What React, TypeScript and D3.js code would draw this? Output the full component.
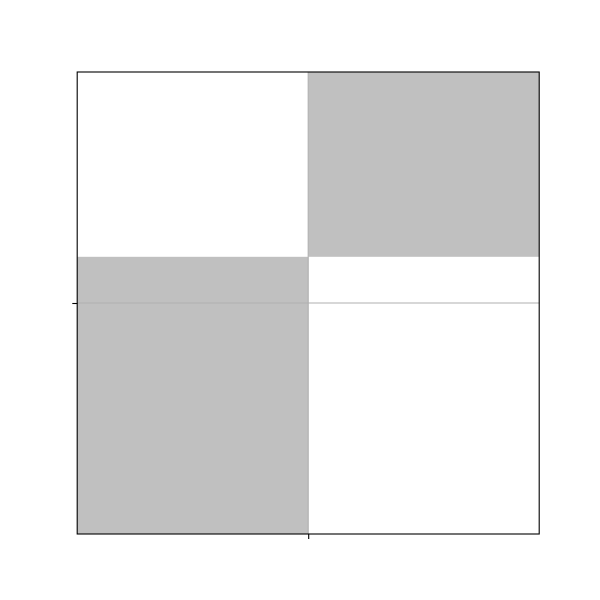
import { useEffect, useRef } from 'react';
import * as d3 from 'd3';

// regions: x extent and y extent of each shaded block
const regionX0 = [-1, 0];
const regionX1 = [0, 1];
const regionY0 = [-1, 0.2];
const regionY1 = [0.2, 1];

const xTicks = [0];
const yTicks = [0];

export default function App() {
  const svgRef = useRef<SVGSVGElement>(null);

  useEffect(() => {
    document.body.style.margin = '0';
    if (!svgRef.current) return;
    const svg = d3.select(svgRef.current);
    svg.selectAll('*').remove();

    const width = 600;
    const height = 600;
    const margin = { top: 72, right: 60.8, bottom: 66, left: 77.2 };
    const innerW = width - margin.left - margin.right;
    const innerH = height - margin.top - margin.bottom;

    const x = d3.scaleLinear().domain([-1, 1]).range([0, innerW]);
    const y = d3.scaleLinear().domain([-1, 1]).range([innerH, 0]);

    const g = svg
      .append('g')
      .attr('transform', `translate(${margin.left},${margin.top})`);

    g.append('rect')
      .attr('width', innerW)
      .attr('height', innerH)
      .attr('fill', '#ffffff');

    // Shaded blocks
    g.selectAll('.block')
      .data(regionX0.map((_, i) => i))
      .enter()
      .append('rect')
      .attr('class', 'block')
      .attr('x', (i) => x(regionX0[i]))
      .attr('y', (i) => y(regionY1[i]))
      .attr('width', (i) => x(regionX1[i]) - x(regionX0[i]))
      .attr('height', (i) => y(regionY0[i]) - y(regionY1[i]))
      .attr('fill', '#c0c0c0');

    // Grid lines
    g.selectAll('.xgrid')
      .data(xTicks)
      .enter()
      .append('line')
      .attr('x1', (d) => x(d))
      .attr('x2', (d) => x(d))
      .attr('y1', 0)
      .attr('y2', innerH)
      .attr('stroke', '#b0b0b0')
      .attr('stroke-width', 1.1);

    g.selectAll('.ygrid')
      .data(yTicks)
      .enter()
      .append('line')
      .attr('x1', 0)
      .attr('x2', innerW)
      .attr('y1', (d) => y(d))
      .attr('y2', (d) => y(d))
      .attr('stroke', '#b0b0b0')
      .attr('stroke-width', 1.1);

    // Axes (no labels)
    const xAxis = g
      .append('g')
      .attr('transform', `translate(0,${innerH})`)
      .call(
        d3.axisBottom(x).tickValues(xTicks).tickFormat(() => '').tickSize(4.9).tickSizeOuter(0)
      );
    const yAxis = g
      .append('g')
      .call(
        d3.axisLeft(y).tickValues(yTicks).tickFormat(() => '').tickSize(4.9).tickSizeOuter(0)
      );
    [xAxis, yAxis].forEach((a) => {
      a.select('.domain').remove();
      a.selectAll('line').attr('stroke', '#000').attr('stroke-width', 1.1);
    });

    // Frame
    g.append('rect')
      .attr('width', innerW)
      .attr('height', innerH)
      .attr('fill', 'none')
      .attr('stroke', '#000')
      .attr('stroke-width', 1.1);
  }, []);

  return <svg ref={svgRef} width={600} height={600} style={{ display: 'block' }} />;
}
